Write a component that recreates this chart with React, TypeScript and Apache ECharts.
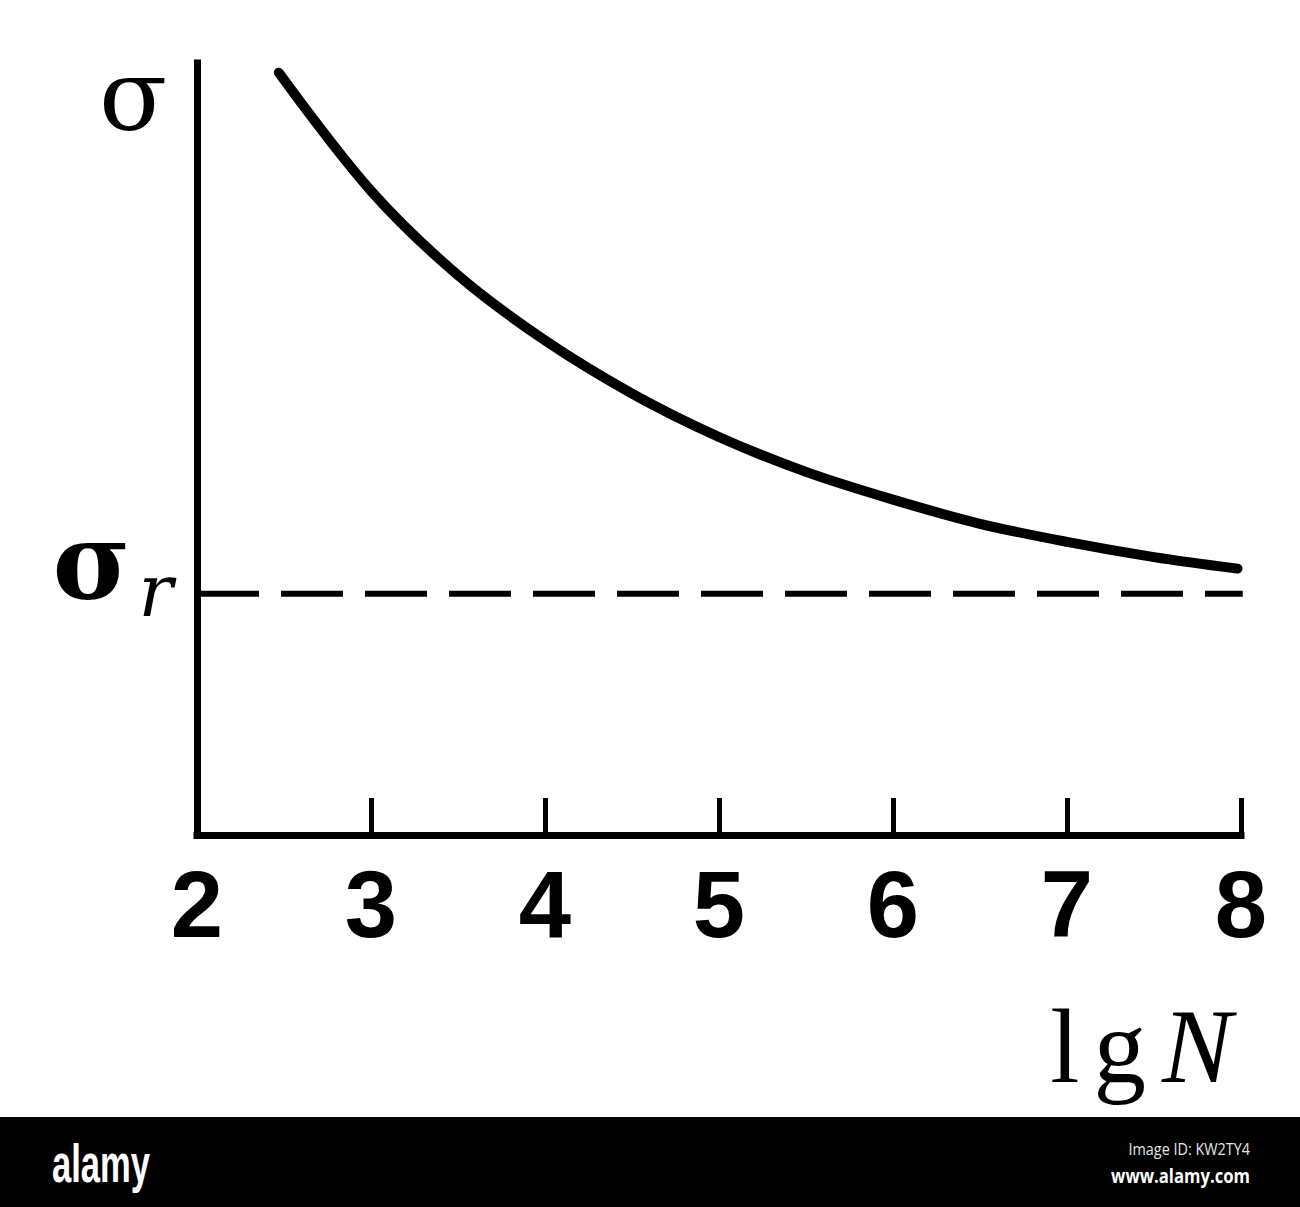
import React, { useEffect, useRef } from "react";
import * as echarts from "echarts";

// x: lg N, y: stress in units of the fatigue limit sigma_r
const xTicks = [2, 3, 4, 5, 6, 7, 8];
const curveX = [2.47, 3.0, 3.5, 4.0, 4.5, 5.0, 5.5, 6.0, 6.5, 7.0, 7.5, 7.98];
const curveY = [3.16, 2.67, 2.32, 2.05, 1.83, 1.65, 1.505, 1.39, 1.29, 1.215, 1.152, 1.104];
const sigmaR = 1;
const dashX = [2, 8.01];
const yLabel = "σ";

export default function App() {
  const ref = useRef<HTMLDivElement>(null);
  useEffect(() => {
    if (!ref.current) return;
    const chart = echarts.init(ref.current, null, { renderer: "svg" });
    const curve = curveX.map((x, i) => [x, curveY[i]]);
    const dash = dashX.map((x) => [x, sigmaR]);
    chart.setOption({
      animation: false,
      backgroundColor: "#ffffff",
      grid: { left: 197, right: 59, top: 63, bottom: 372, containLabel: false, outerBoundsMode: "none" },
      xAxis: {
        type: "value",
        min: xTicks[0],
        max: xTicks[xTicks.length - 1],
        interval: 1,
        splitLine: { show: false },
        axisLine: { show: true, lineStyle: { color: "#000", width: 7, cap: "square" } },
        axisTick: { show: true, inside: true, length: 37, lineStyle: { color: "#000", width: 5 } },
        axisLabel: {
          margin: 22,
          color: "#000",
          fontSize: 94,
          fontWeight: "bold",
          fontFamily: "'Liberation Sans', Arial, sans-serif",
          formatter: (v: number) => String(v),
        },
      },
      yAxis: {
        type: "value",
        min: 0,
        max: 3.2,
        interval: 1,
        splitLine: { show: false },
        axisLine: { show: true, lineStyle: { color: "#000", width: 7, cap: "square" } },
        axisTick: { show: false },
        axisLabel: {
          margin: 24,
          showMaxLabel: false,
          formatter: (v: number) => (Math.abs(v - sigmaR) < 1e-9 ? "{s|σ}{r|r}" : ""),
          rich: {
            s: {
              fontSize: 106,
              fontFamily: "'DejaVu Serif', serif",
              fontWeight: "bold",
              color: "#000",
              padding: [0, 8, 66, 0],
            },
            r: {
              fontSize: 72,
              fontStyle: "italic",
              fontFamily: "'DejaVu Serif', serif",
              color: "#000",
              padding: [0, 0, 6, 0],
            },
          },
        },
      },
      series: [
        {
          type: "line",
          data: curve,
          smooth: 0.33,
          symbol: "none",
          clip: false,
          lineStyle: { color: "#000", width: 10, cap: "round", join: "round" },
        },
        {
          type: "line",
          data: dash,
          symbol: "none",
          clip: false,
          lineStyle: { color: "#000", width: 6, type: [62, 22] },
        },
      ],
      graphic: [
        {
          type: "text",
          x: 133,
          y: 95,
          style: {
            text: yLabel,
            fontSize: 100,
            fontFamily: "'DejaVu Serif', serif",
            fill: "#000",
            align: "center",
            verticalAlign: "middle",
          },
        },
        {
          type: "text",
          x: 1232,
          y: 1046,
          style: {
            text: "{a|l}{g|g}{b|N}",
            align: "right",
            verticalAlign: "middle",
            rich: {
              a: { fontSize: 105, fontFamily: "'Liberation Serif', serif", fill: "#000", padding: [0, 14, 0, 0] },
              g: { fontSize: 105, fontFamily: "'Liberation Serif', serif", fill: "#000", padding: [0, 16, 0, 0] },
              b: { fontSize: 105, fontFamily: "'Liberation Serif', serif", fontStyle: "italic", fill: "#000" },
            },
          },
        },
        {
          type: "rect",
          shape: { x: 0, y: 1117, width: 1300, height: 90 },
          style: { fill: "#000" },
        },
        {
          type: "text",
          x: 52,
          y: 1164,
          scaleX: 0.64,
          style: {
            text: "alamy",
            fontSize: 54,
            fontWeight: "bold",
            fontFamily: "'Liberation Sans', Arial, sans-serif",
            fill: "#fff",
            align: "left",
            verticalAlign: "middle",
          },
        },
        {
          type: "text",
          x: 1250,
          y: 1149,
          scaleX: 0.9,
          style: {
            text: "Image ID: KW2TY4",
            fontSize: 16,
            fontFamily: "'Open Sans', 'DejaVu Sans', sans-serif",
            fill: "#e6e6e6",
            align: "right",
            verticalAlign: "middle",
          },
        },
        {
          type: "text",
          x: 1250,
          y: 1176,
          scaleX: 0.88,
          style: {
            text: "www.alamy.com",
            fontSize: 19,
            fontWeight: "bold",
            fontFamily: "'Open Sans', 'DejaVu Sans', sans-serif",
            fill: "#fff",
            align: "right",
            verticalAlign: "middle",
          },
        },
      ],
    });
    return () => chart.dispose();
  }, []);
  return (
    <div
      ref={ref}
      style={{ position: "absolute", left: 0, top: 0, width: 1300, height: 1207, background: "#fff" }}
    />
  );
}
